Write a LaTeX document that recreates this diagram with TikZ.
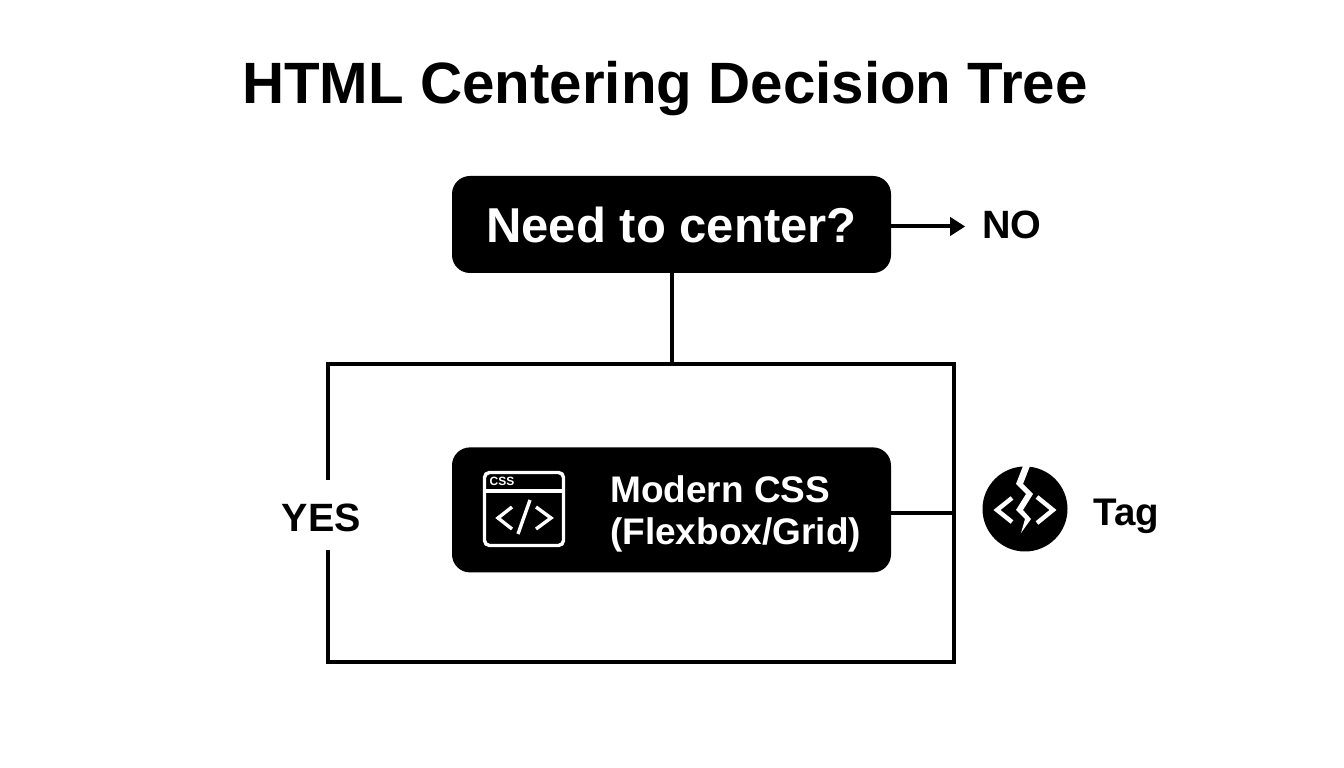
\documentclass[tikz,border=0pt]{standalone}
\usepackage{fontspec}
\setmainfont{Liberation Sans}
\usetikzlibrary{arrows.meta,positioning}

\begin{document}
\begin{tikzpicture}[
    x=1pt, y=1pt,
    blackbox/.style={rectangle, fill=black, rounded corners=18pt, minimum width=439pt, inner sep=0pt, text=white, font=\fontsize{49}{54}\selectfont\bfseries},
    label/.style={inner sep=0pt, font=\fontsize{39.5}{44}\selectfont\bfseries},
    line/.style={line width=4pt, black},
    arrow/.style={line width=4pt, -{Triangle[length=15pt,width=18pt]}},
    icon/.style={white, line width=3.4pt}
]
\useasboundingbox (0,0) rectangle (1344,768);

\node[inner sep=0pt, font=\fontsize{58.3}{62}\selectfont\bfseries] (title) at (665,679) {HTML Centering Decision Tree};

\node[blackbox, minimum height=97pt] (need) at (671.5,543.5) {\raisebox{-2pt}{Need to center?}};
\node[blackbox, minimum height=125pt, below=174pt of need] (modern) {};
\node[anchor=west, inner sep=0pt, align=left, text=white, font=\fontsize{37}{42}\selectfont\bfseries] (moderntext) at (610,254) {Modern CSS\\(Flexbox/Grid)};

\node[label, right=91pt of need] (no) {NO};
\node[label] (yes) at (321.5,250) {YES};
\node[label, font=\fontsize{38.5}{44}\selectfont\bfseries] (tag) at (1126.5,252) {Tag};

% outer frame, open at YES
\coordinate (yestop) at (328,288);
\coordinate (yesbot) at (328,218);
\coordinate (frametr) at (954,404);
\coordinate (framebr) at (954,106);

\draw[line] (yestop) |- (frametr) -- (framebr) -| (yesbot);
\draw[line] (need.south) -- (need.south |- frametr);
\draw[line] ([yshift=-3pt]modern.east) -- ([yshift=-3pt]modern.east -| frametr);
\draw[arrow] ([yshift=-2pt]need.east) -- ([xshift=-17pt,yshift=-2pt]no.west);

% css window icon
\node[draw=white, line width=3.4pt, rounded corners=5pt, minimum width=79pt, minimum height=73pt, inner sep=0pt] (window) at (524,259) {};
\draw[icon] (window.west |- 0,277) -- (window.east |- 0,277);
\node[inner sep=0pt, text=white, font=\fontsize{12}{14}\selectfont\bfseries] (csstext) at (502,286.5) {CSS};
\draw[icon, miter limit=10] (512,261) -- (498,250) -- (512,239);
\draw[icon, miter limit=10] (536,261) -- (551,250) -- (536,239);
\draw[icon] (530,268) -- (518,234);

% broken tag icon
\node[circle, fill=black, minimum size=85pt, inner sep=0pt] (broken) at (1025,259) {};
\draw[icon, line width=4.4pt] (1012,270) -- (997,258) -- (1012,246);
\draw[icon, line width=4.4pt] (1037,271) -- (1053,258) -- (1037,245);
\fill[white] (1023,302) -- (1030,302) -- (1023,284) -- (1033,274) -- (1023,258) -- (1031,249) -- (1021,235) -- (1025,249) -- (1016,258) -- (1026,274) -- (1016,284) -- cycle;

\end{tikzpicture}
\end{document}
